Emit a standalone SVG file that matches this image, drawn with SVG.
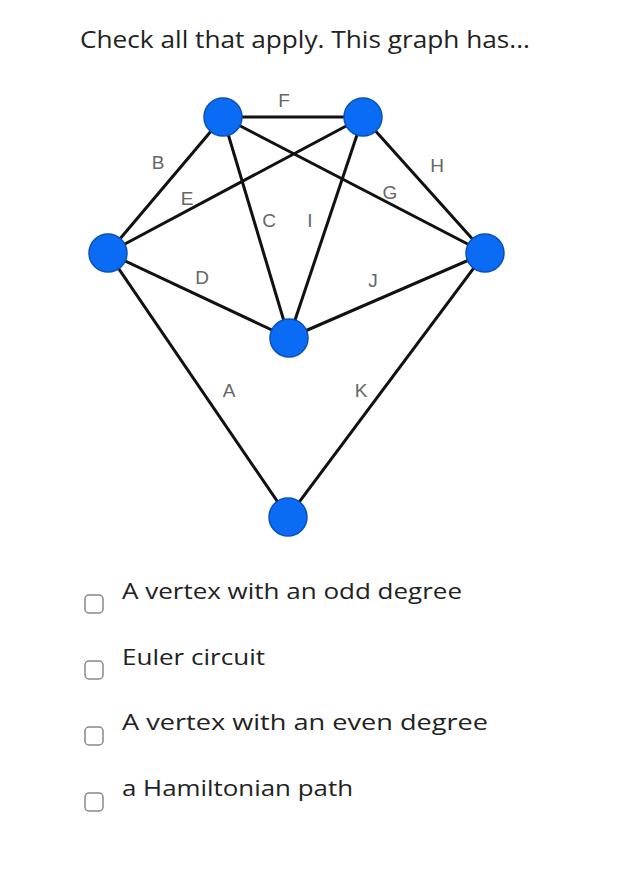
<svg xmlns="http://www.w3.org/2000/svg" width="637" height="875" viewBox="0 0 637 875">
<style>
.t{font-family:"Open Sans","Liberation Sans",sans-serif;fill:#222}
.e{stroke:#111;stroke-width:3;fill:none}
.n{fill:#0a6cf5;stroke:#0a4fb8;stroke-width:1.5}
.l{font-family:"Liberation Sans",sans-serif;font-size:19px;fill:#666;text-anchor:middle}
.cb{fill:#fff;stroke:#888;stroke-width:1.5}
</style>
<rect width="637" height="875" fill="#fff"/>
<text class="t" x="80" y="48" font-size="23" textLength="450" lengthAdjust="spacingAndGlyphs">Check all that apply.  This graph has...</text>
<g id="edges">
<line class="e" x1="223" y1="117" x2="363" y2="117"/>
<line class="e" x1="108" y1="253" x2="223" y2="117"/>
<line class="e" x1="108" y1="253" x2="363" y2="117"/>
<line class="e" x1="223" y1="117" x2="289" y2="338"/>
<line class="e" x1="363" y1="117" x2="289" y2="338"/>
<line class="e" x1="223" y1="117" x2="485" y2="253"/>
<line class="e" x1="363" y1="117" x2="485" y2="253"/>
<line class="e" x1="108" y1="253" x2="289" y2="338"/>
<line class="e" x1="289" y1="338" x2="485" y2="253"/>
<line class="e" x1="108" y1="253" x2="288" y2="517"/>
<line class="e" x1="485" y1="253" x2="288" y2="517"/>
</g>
<g id="labels">
<text class="l" x="284" y="107">F</text>
<text class="l" x="158" y="169">B</text>
<text class="l" x="187" y="205">E</text>
<text class="l" x="269" y="227">C</text>
<text class="l" x="310" y="227">I</text>
<text class="l" x="390" y="199">G</text>
<text class="l" x="437" y="172">H</text>
<text class="l" x="202" y="284">D</text>
<text class="l" x="373" y="287">J</text>
<text class="l" x="229" y="397">A</text>
<text class="l" x="361" y="397">K</text>
</g>
<g id="n1"><circle class="n" cx="223" cy="117" r="19"/></g>
<g id="n2"><circle class="n" cx="363" cy="117" r="19"/></g>
<g id="n3"><circle class="n" cx="108" cy="253" r="19"/></g>
<g id="n4"><circle class="n" cx="485" cy="253" r="19"/></g>
<g id="n5"><circle class="n" cx="289" cy="338" r="19"/></g>
<g id="n6"><circle class="n" cx="288" cy="517" r="19"/></g>
<g id="options">
<rect class="cb" x="85" y="595" width="18" height="18" rx="4"/>
<text class="t" x="122" y="599" font-size="22" textLength="340" lengthAdjust="spacingAndGlyphs">A vertex with an odd degree</text>
<rect class="cb" x="85" y="661" width="18" height="18" rx="4"/>
<text class="t" x="122" y="665" font-size="22" textLength="143" lengthAdjust="spacingAndGlyphs">Euler circuit</text>
<rect class="cb" x="85" y="727" width="18" height="18" rx="4"/>
<text class="t" x="122" y="730" font-size="22" textLength="366" lengthAdjust="spacingAndGlyphs">A vertex with an even degree</text>
<rect class="cb" x="85" y="793" width="18" height="18" rx="4"/>
<text class="t" x="122" y="796" font-size="22" textLength="231" lengthAdjust="spacingAndGlyphs">a Hamiltonian path</text>
</g>
</svg>
